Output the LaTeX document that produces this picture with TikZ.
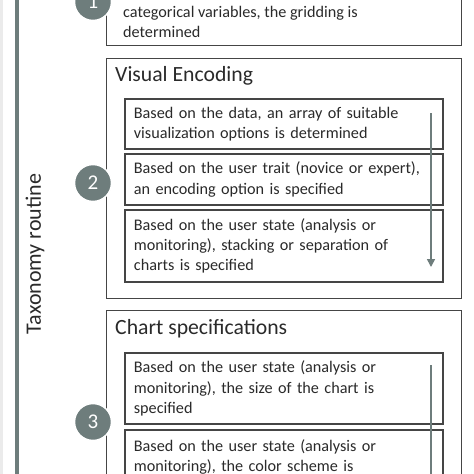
\documentclass[tikz,border=0pt]{standalone}
\usepackage{fontspec}
\setmainfont{Carlito}
\usetikzlibrary{arrows.meta}
\definecolor{frame}{HTML}{454545}
\definecolor{slate}{HTML}{6E7D7C}
\definecolor{txt}{HTML}{2A2A2A}
\definecolor{strip}{HTML}{EBEBEB}
\tikzset{
  outerbox/.style={draw=frame, line width=1.4pt, anchor=north west, inner sep=0pt, minimum width=355pt},
  innerbox/.style={draw=frame, line width=1.8pt, anchor=north west, inner xsep=9pt, inner ysep=0pt,
    minimum width=318pt, text width=300pt, align=left, text=txt, font=\fontsize{16.2}{20.3}\selectfont},
  title/.style={anchor=west, inner sep=0pt, text=txt, font=\fontsize{21.7}{26}\selectfont},
  step circle/.style={circle, fill=slate, draw=white, line width=1.5pt, minimum size=37pt, inner sep=0pt,
    text=white, font=\fontsize{21}{24}\selectfont},
  flow/.style={draw=slate, line width=1.6pt},
}
\begin{document}
\begin{tikzpicture}[x=1pt,y=-1pt]
\clip (0,0) rectangle (474,474);
\fill[strip] (0,0) rectangle (3,474);
\fill[white] (3,0) rectangle (474,474);
% left routine bar
\coordinate (bartop) at (17,-5);
\coordinate (barbot) at (17,480);
\draw[slate, line width=4pt] (bartop) -- (barbot);
\node[rotate=90, text=txt, font=\fontsize{22}{26}\selectfont] (tax) at (35,254) {Taxonomy routine};
% box 1
\node[outerbox, minimum height=65pt] (b1) at (106,-20) {};
\node[anchor=west, inner sep=0pt, text=txt, font=\fontsize{16.2}{20.3}\selectfont, align=left] (t1a) at (123,22) {categorical variables, the gridding is\\determined};
% box 2
\node[outerbox, minimum height=240pt] (b2) at (106,58) {};
\node[title] (h2) at (115,76) {Visual Encoding};
\node[innerbox, minimum height=50pt] (i21) at (124,98) {Based on the data, an array of suitable\\visualization options is determined};
\node[innerbox, minimum height=51pt] (i22) at (124,153) {Based on the user trait (novice or expert),\\an encoding option is specified};
\node[innerbox, minimum height=72pt] (i23) at (124,209) {Based on the user state (analysis or\\monitoring), stacking or separation of\\charts is specified};
\coordinate (a1) at (431,113);
\coordinate (a2) at (431,267);
\draw[flow, -{Triangle[width=8pt,length=8pt]}] (a1) -- (a2);
% box 3
\node[outerbox, minimum height=200pt] (b3) at (106,310) {};
\node[title] (h3) at (115,329) {Chart specifications};
\node[innerbox, minimum height=71pt] (i31) at (124,352) {Based on the user state (analysis or\\monitoring), the size of the chart is\\specified};
\node[innerbox, minimum height=71pt] (i32) at (124,429) {Based on the user state (analysis or\\monitoring), the color scheme is\\\mbox{}};
\coordinate (a3) at (431,365);
\coordinate (a4) at (431,490);
\draw[flow] (a3) -- (a4);
% step circles
\node[step circle] (c1) at (93,2) {1};
\node[step circle] (c2) at (93,183) {2};
\node[step circle] (c3) at (93,422) {3};
\end{tikzpicture}
\end{document}
